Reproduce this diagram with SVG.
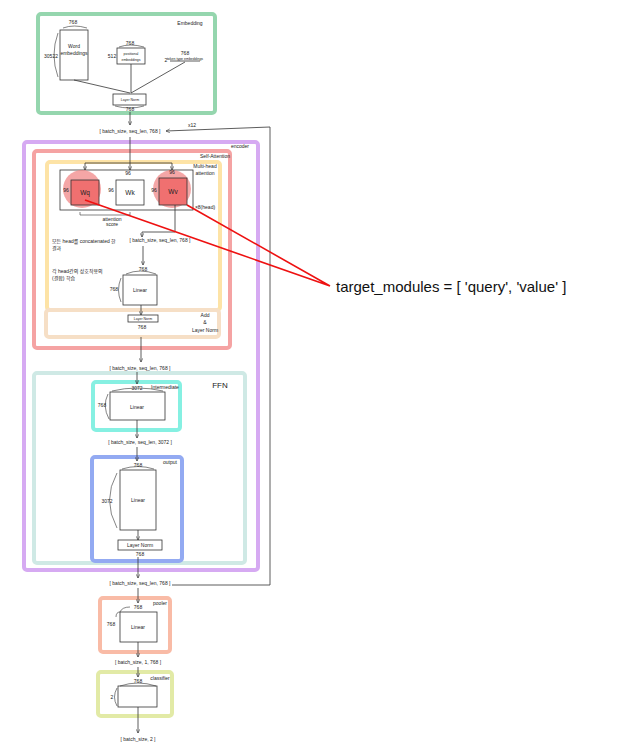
<svg xmlns="http://www.w3.org/2000/svg" width="626" height="745" viewBox="0 0 626 745">
<style>
text{font-family:"Liberation Sans","Noto Sans CJK KR",sans-serif;fill:#222;font-size:5px;text-anchor:middle}
text.st{text-anchor:start}
text.lb{text-anchor:end}
text.t6{font-size:6.5px}
text.t3{font-size:3.5px}
text.t8{font-size:8px}
text.big{font-size:15px;text-anchor:start;fill:#111}
.box{fill:#fff;stroke:#333;stroke-width:0.8}
.grp{fill:none;stroke-width:4}
.ln{fill:none;stroke:#333;stroke-width:0.8}
.br{fill:none;stroke:#333;stroke-width:0.6}
</style>
<defs>
<marker id="a" viewBox="0 0 10 10" refX="9" refY="5" markerWidth="6" markerHeight="6" orient="auto"><path d="M1,1 L9,5 L1,9" fill="none" stroke="#333" stroke-width="1.2"/></marker>
</defs>
<rect width="626" height="745" fill="#fff"/>
<g id="groups">
<rect class="grp" x="38" y="14" width="177" height="99" rx="3" stroke="#95d6ae"/>
<rect class="grp" x="24" y="142" width="234" height="428" rx="3" stroke="#d6aaf2"/>
<rect class="grp" x="34" y="151" width="196" height="197" rx="3" stroke="#f5a3a3"/>
<rect class="grp" x="47" y="162" width="173" height="148" rx="3" stroke="#fde3a6"/>
<rect class="grp" x="46" y="310" width="173" height="27" rx="3" stroke="#f6dfc6"/>
<rect class="grp" x="34" y="373" width="211" height="190" rx="3" stroke="#cfe9e5"/>
<rect class="grp" x="93" y="382" width="87" height="48" rx="3" stroke="#86f0e2"/>
<rect class="grp" x="92" y="457" width="90" height="104" rx="3" stroke="#93aaf2"/>
<rect class="grp" x="100" y="598" width="70" height="54" rx="3" stroke="#f9bba6"/>
<rect class="grp" x="98" y="672" width="74" height="44" rx="3" stroke="#e2eaa6"/>
<text x="190" y="25">Embedding</text>
<text x="240" y="148">encoder</text>
<text x="215" y="158">Self-Attention</text>
<text x="205" y="168">Multi-head</text><text x="205" y="175">attention</text>
<text x="205" y="317">Add</text><text x="205" y="324">&amp;</text><text x="205" y="332">Layer Norm</text>
<text x="220" y="388" class="t8">FFN</text>
<text x="165" y="389">Intermediate</text>
<text x="170" y="464">output</text>
<text x="160" y="605">pooler</text>
<text x="160" y="680">classifier</text>
</g>
<g id="embedding">
<rect class="box" x="60" y="30" width="28" height="50"/>
<text x="74" y="48">Word</text><text x="74" y="55">embeddings</text>
<text x="73" y="24">768</text><text x="51" y="58">30522</text>
<path class="br" d="M63,28 Q74,24 87,28 M58,33 Q50,55 58,77"/>
<rect class="box" x="117" y="48" width="28" height="16"/>
<text x="131" y="55" class="t3">positional</text><text x="131" y="61" class="t3">embeddings</text>
<text x="130" y="45">768</text><text x="112" y="58">512</text>
<path class="br" d="M119,47 Q130,43 144,47"/>
<line class="ln" x1="170" y1="61" x2="200" y2="61"/>
<text x="185" y="60" class="t3">token type embeddings</text>
<text x="185" y="55">768</text><text x="166" y="62">2</text>
<rect class="box" x="113" y="94" width="33" height="11"/>
<text x="130" y="101" class="t3">Layer Norm</text>
<text x="130" y="111">768</text>
<path class="br" d="M115,106 Q130,110 144,106"/>
</g>
<g id="heads">
<rect x="60" y="170" width="133" height="40" fill="none" stroke="#333" stroke-width="0.8"/>
<circle cx="82" cy="189" r="19" fill="#f08080" opacity="0.7"/>
<circle cx="172" cy="189" r="19" fill="#f08080" opacity="0.7"/>
<rect x="71" y="180" width="28" height="25" fill="#f07070" stroke="#333" stroke-width="0.8"/>
<rect class="box" x="116" y="180" width="28" height="25"/>
<rect x="159" y="178" width="28" height="27" fill="#f07070" stroke="#333" stroke-width="0.8"/>
<text x="85" y="195" class="t6">Wq</text><text x="130" y="195" class="t6">Wk</text><text x="173" y="194" class="t6">Wv</text>
<text x="66" y="192">96</text><text x="111" y="192">96</text><text x="154" y="192">96</text>
<text x="128" y="175">96</text><text x="172" y="174">96</text>
<text x="205" y="209">×8(head)</text>
<path class="br" d="M80,212 L80,215 L130,215 L130,212"/>
<text x="112" y="221">attention</text><text x="112" y="226">score</text>
</g>
<g id="attn-out">
<text x="160" y="242">[ batch_size, seq_len, 768 ]</text>
<text x="52" y="243" class="st">모든 head를 concatenated 한</text><text x="52" y="250" class="st">결과</text>
<text x="52" y="273" class="st">각 head간의 상호작용의</text><text x="52" y="280" class="st">(결합) 학습</text>
<rect class="box" x="123" y="275" width="34" height="30"/>
<text x="140" y="292">Linear</text>
<text x="143" y="271">768</text><text x="118" y="291" class="lb">768</text>
<path class="br" d="M126,274 Q140,268 156,274 M121,278 Q116,290 121,302"/>
<rect class="box" x="128" y="315" width="30" height="7"/>
<text x="143" y="320" class="t3">Layer Norm</text>
<text x="142" y="329">768</text>
<text x="140" y="370">[ batch_size, seq_len, 768 ]</text>
</g>
<g id="ffn">
<rect class="box" x="110" y="392" width="55" height="28"/>
<text x="137" y="409">Linear</text>
<text x="137" y="390">3072</text><text x="102" y="407">768</text>
<path class="br" d="M112,391 Q137,385 163,391 M108,394 Q102,406 109,419"/>
<text x="140" y="444">[ batch_size, seq_len, 3072 ]</text>
<rect class="box" x="120" y="470" width="36" height="60"/>
<text x="138" y="502">Linear</text>
<text x="138" y="467">768</text><text x="107" y="503">3072</text>
<path class="br" d="M122,469 Q138,464 154,469 M117,473 Q102,500 117,528"/>
<rect class="box" x="118" y="540" width="44" height="10"/>
<text x="140" y="547">Layer Norm</text>
<text x="140" y="556">768</text>
<text x="140" y="585">[ batch_size, seq_len, 768 ]</text>
</g>
<g id="head">
<rect class="box" x="120" y="612" width="37" height="30"/>
<text x="138" y="629">Linear</text>
<text x="138" y="609">768</text><text x="111" y="626">768</text>
<path class="br" d="M120,612 Q122,607 130,607 M120,612 Q116,612 116,617"/>
<text x="138" y="664">[ batch_size, 1, 768 ]</text>
<rect class="box" x="118" y="686" width="39" height="21"/>
<text x="138" y="683">768</text><text x="112" y="699">2</text>
<path class="br" d="M120,686 Q138,680 156,686 M117,688 Q112,697 117,706"/>
<text x="138" y="741">[ batch_size, 2 ]</text>
</g>
<g id="connectors">
<path class="ln" d="M74,80 L130,93 M131,64 L131,93 M185,62 L131,93"/>
<line class="ln" x1="130" y1="112" x2="130" y2="125" marker-end="url(#a)"/>
<text x="130" y="133">[ batch_size, seq_len, 768 ]</text>
<text x="192" y="127">x12</text>
<path class="ln" d="M172,585 L270,585 L270,127 L166,131" marker-end="url(#a)"/>
<line class="ln" x1="130" y1="137" x2="130" y2="163"/>
<path class="ln" d="M85,163 L172,163"/>
<path class="ln" d="M130,163 L130,170" marker-end="url(#a)"/>
<path class="ln" d="M85,163 L85,170" marker-end="url(#a)"/>
<path class="ln" d="M172,163 L172,170" marker-end="url(#a)"/>
<path class="ln" d="M175,205 L175,232 L142,232 L142,237" marker-end="url(#a)"/>
<line class="ln" x1="143" y1="246" x2="143" y2="265" marker-end="url(#a)"/>
<line class="ln" x1="141" y1="305" x2="141" y2="315" marker-end="url(#a)"/>
<line class="ln" x1="141" y1="337" x2="141" y2="362" marker-end="url(#a)"/>
<line class="ln" x1="137" y1="372" x2="137" y2="384" marker-end="url(#a)"/>
<line class="ln" x1="137" y1="420" x2="137" y2="438" marker-end="url(#a)"/>
<line class="ln" x1="137" y1="447" x2="137" y2="461" marker-end="url(#a)"/>
<line class="ln" x1="138" y1="530" x2="138" y2="540" marker-end="url(#a)"/>
<line class="ln" x1="138" y1="557" x2="138" y2="578" marker-end="url(#a)"/>
<line class="ln" x1="138" y1="588" x2="138" y2="603" marker-end="url(#a)"/>
<line class="ln" x1="138" y1="642" x2="138" y2="657" marker-end="url(#a)"/>
<line class="ln" x1="138" y1="667" x2="138" y2="677" marker-end="url(#a)"/>
<line class="ln" x1="138" y1="707" x2="138" y2="733" marker-end="url(#a)"/>
<path d="M85,200 L330,286 M187,205 L330,286" stroke="#ee1111" stroke-width="1.6" fill="none"/>
</g>
<text x="336" y="292" class="big">target_modules = [ 'query', 'value' ]</text>
</svg>
